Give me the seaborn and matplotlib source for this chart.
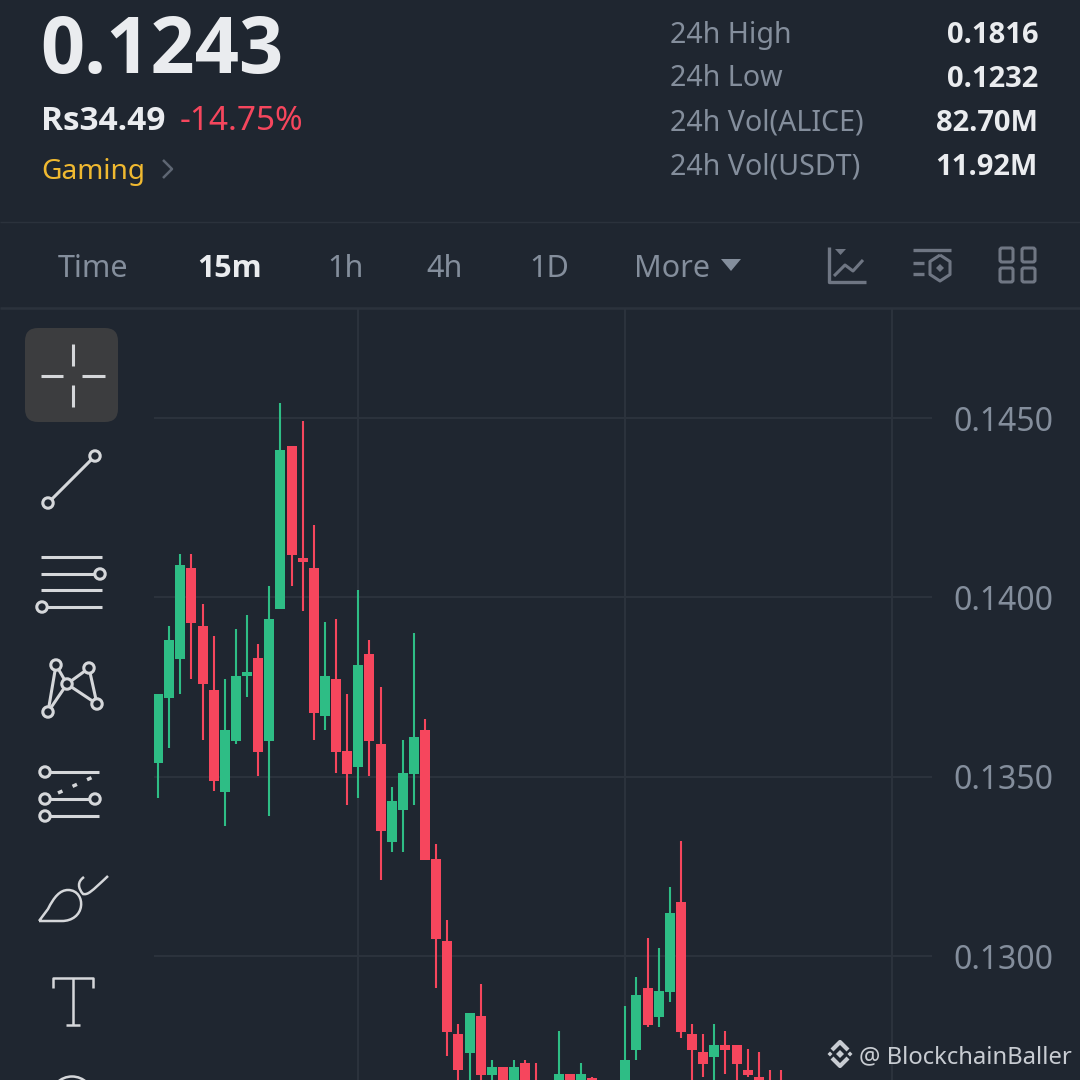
from __future__ import annotations

import matplotlib

matplotlib.use("Agg")

import matplotlib.pyplot as plt
import numpy as np
import pandas as pd
import seaborn as sns
from matplotlib.patches import Circle, FancyBboxPatch, PathPatch, Polygon
from matplotlib.path import Path

# candles, left to right (the last ones run off the bottom)
OPENS = [
    0.13538, 0.13719, 0.13828, 0.14082, 0.13920, 0.13742, 0.13457, 0.13600, 0.13781, 0.13831,
    0.13600, 0.13968, 0.14422, 0.14110, 0.14082, 0.13669, 0.13772, 0.13572, 0.13527, 0.13842,
    0.13591, 0.13318, 0.13407, 0.13508, 0.13630, 0.13271, 0.13042, 0.12783, 0.12730, 0.12833,
    0.12668, 0.12691, 0.12640, 0.12702, 0.12630, 0.12630, 0.12640, 0.12671, 0.12640, 0.12660,
    0.12630, 0.12630, 0.12640, 0.12738, 0.12911, 0.12830, 0.12900, 0.13151, 0.12783, 0.12732,
    0.12719, 0.12752, 0.12752, 0.12682, 0.12663, 0.12650, 0.12650,
]
HIGHS = [
    0.13731, 0.13920, 0.14121, 0.14121, 0.13981, 0.13892, 0.13772, 0.13912, 0.13951, 0.13870,
    0.14032, 0.14542, 0.14422, 0.14492, 0.14202, 0.13931, 0.13940, 0.13731, 0.14021, 0.13881,
    0.13750, 0.13471, 0.13602, 0.13901, 0.13661, 0.13312, 0.13100, 0.12811, 0.12841, 0.12922,
    0.12710, 0.12691, 0.12710, 0.12710, 0.12702, 0.12640, 0.12791, 0.12671, 0.12702, 0.12663,
    0.12640, 0.12640, 0.12861, 0.12942, 0.13050, 0.13022, 0.13192, 0.13321, 0.12811, 0.12783,
    0.12811, 0.12791, 0.12752, 0.12741, 0.12732, 0.12682, 0.12682,
]
LOWS = [
    0.13441, 0.13580, 0.13731, 0.13772, 0.13602, 0.13460, 0.13363, 0.13591, 0.13722, 0.13502,
    0.13390, 0.13968, 0.14032, 0.13962, 0.13602, 0.13630, 0.13510, 0.13421, 0.13441, 0.13502,
    0.13212, 0.13290, 0.13290, 0.13421, 0.13268, 0.12911, 0.12722, 0.12640, 0.12640, 0.12640,
    0.12640, 0.12612, 0.12612, 0.12612, 0.12612, 0.12612, 0.12640, 0.12612, 0.12612, 0.12612,
    0.12612, 0.12612, 0.12612, 0.12710, 0.12802, 0.12802, 0.12872, 0.12771, 0.12640, 0.12663,
    0.12640, 0.12671, 0.12640, 0.12663, 0.12640, 0.12640, 0.12640,
]
CLOSES = [
    0.13731, 0.13881, 0.14090, 0.13929, 0.13758, 0.13488, 0.13630, 0.13781, 0.13791, 0.13569,
    0.13940, 0.14411, 0.14118, 0.14098, 0.13678, 0.13781, 0.13569, 0.13508, 0.13811, 0.13600,
    0.13349, 0.13432, 0.13510, 0.13611, 0.13268, 0.13048, 0.12788, 0.12682, 0.12841, 0.12668,
    0.12691, 0.12612, 0.12691, 0.12612, 0.12612, 0.12612, 0.12671, 0.12612, 0.12671, 0.12640,
    0.12612, 0.12612, 0.12710, 0.12891, 0.12808, 0.12903, 0.13120, 0.12788, 0.12738, 0.12699,
    0.12752, 0.12738, 0.12699, 0.12668, 0.12612, 0.12612, 0.12612,
]
PRICE_TICKS = [0.1300, 0.1350, 0.1400, 0.1450]
TIME_TICKS = [18, 42, 66]

HEADER_PRICE = "0.1243"
STATS_LABELS = ["24h High", "24h Low", "24h Vol(ALICE)", "24h Vol(USDT)"]
STATS_VALUES = ["0.1816", "0.1232", "82.70M", "11.92M"]
TABS = ["Time", "15m", "1h", "4h", "1D", "More"]

BG = "#1f2630"
GRID = "#2b323c"
UP = "#2ebd85"
DOWN = "#f6465d"
MUTED = "#848e9c"
WHITE = "#eaecef"
ICON = "#d5d7da"
ICON_DIM = "#6f7683"

sns.set_theme(style="dark", rc={"figure.facecolor": BG, "axes.facecolor": BG})
plt.rcParams["font.family"] = ["Noto Sans", "Open Sans", "DejaVu Sans"]

candles = pd.DataFrame({"open": OPENS, "high": HIGHS, "low": LOWS, "close": CLOSES})
candles["slot"] = candles.index
candles["side"] = np.where(candles["close"] >= candles["open"], "up", "down")
wicks = candles.melt(id_vars=["slot", "side"], value_vars=["high", "low"], value_name="price")
bodies = candles.melt(id_vars=["slot", "side"], value_vars=["open", "close"], value_name="price")
palette = {"up": UP, "down": DOWN}

figure = plt.figure(figsize=(10.8, 10.8), dpi=100)
axis = figure.add_axes([154 / 1080, 0, 778 / 1080, 772 / 1080])

for frame, width in ((wicks, 1.5), (bodies, 7.2)):
    sns.lineplot(
        data=frame,
        x="slot",
        y="price",
        hue="side",
        units="slot",
        estimator=None,
        sort=False,
        palette=palette,
        linewidth=width,
        solid_capstyle="butt",
        legend=False,
        ax=axis,
        zorder=3,
    )

axis.set_xlim(-0.36, 69.57)
axis.set_ylim(0.126543, 0.148067)
axis.set_xticks(TIME_TICKS)
axis.set_xticklabels([])
axis.set_yticks(PRICE_TICKS)
axis.set_yticklabels([f"{tick:.4f}" for tick in PRICE_TICKS])
axis.yaxis.tick_right()
axis.tick_params(axis="y", length=0, pad=15.5, labelsize=23, labelcolor=MUTED)
axis.tick_params(axis="x", length=0)
axis.grid(True, color=GRID, linewidth=1.5)
axis.set_axisbelow(True)
axis.set_xlabel("")
axis.set_ylabel("")
sns.despine(ax=axis, left=True, bottom=True, right=True, top=True)

# everything around the chart sits in an overlay measured in picture pixels
ui = figure.add_axes([0, 0, 1, 1], zorder=5)
ui.set_xlim(0, 1080)
ui.set_ylim(1080, 0)
ui.axis("off")
ui.patch.set_alpha(0)


def stroke(points, color=ICON, width=2.2, **kwargs):
    xs, ys = zip(*points)
    ui.plot(xs, ys, color=color, linewidth=width, solid_capstyle="butt", solid_joinstyle="round", **kwargs)


def ring(x, y, radius=5.2, color=ICON):
    ui.add_patch(Circle((x, y), radius, facecolor=BG, edgecolor=color, linewidth=2.2, zorder=4))


def label(x, y, text, color=WHITE, size=20, weight="normal", ha="left"):
    # only Open Sans comes with a bold face here
    family = ["Open Sans", "DejaVu Sans"] if weight == "bold" else ["Noto Sans", "DejaVu Sans"]
    ui.text(x, y, text, color=color, fontsize=size, fontweight=weight, family=family, ha=ha, va="center_baseline")


# header
label(40, 43, HEADER_PRICE, size=55.8, weight="bold")
label(41, 117, "Rs34.49", size=24, weight="bold")
label(180, 117, "-14.75%", color=DOWN, size=24)
label(41, 168, "Gaming", color="#f0b930", size=20.2)
stroke([(163, 160), (172, 169), (163, 178)], color="#5e6673", width=1.8)
for row, (name, value) in enumerate(zip(STATS_LABELS, STATS_VALUES)):
    y = 32 + row * 44
    label(670, y - 0.5, name, color=MUTED, size=20.6)
    label(1038, y, value, size=21, weight="bold", ha="right")
stroke([(0, 222), (1080, 222)], color=GRID, width=1.0)
stroke([(0, 308), (1080, 308)], color=GRID, width=1.8)

# interval tabs
for text, x in zip(TABS, [58, 197, 327, 426, 529, 634]):
    active = text == "15m"
    label(x, 265.5, text, color=WHITE if active else MUTED, size=22, weight="bold" if active else "normal")
ui.add_patch(Polygon([(721, 259), (741, 259), (731, 271)], closed=True, facecolor=MUTED, edgecolor="none"))

# top right chart-type icons
stroke([(829, 247), (829, 282), (866, 282)], color=ICON_DIM, width=2.4)
ui.add_patch(Polygon([(835, 249), (846, 249), (840.5, 255)], closed=True, facecolor=ICON_DIM, edgecolor="none"))
stroke([(834, 276), (845, 265), (853, 271), (863, 260)], color=ICON_DIM, width=2.2)
stroke([(913, 250), (951, 250)], color=ICON_DIM, width=2.4)
stroke([(913, 263), (924, 263)], color=ICON_DIM, width=2.4)
stroke([(913, 274), (924, 274)], color=ICON_DIM, width=2.4)
hexagon = [(940, 255), (950, 261.5), (950, 274.5), (940, 281), (930, 274.5), (930, 261.5), (940, 255)]
stroke(hexagon, color=ICON_DIM, width=2.2)
ui.add_patch(Polygon([(940, 264), (944, 268), (940, 272), (936, 268)], closed=True, facecolor=ICON_DIM, edgecolor="none"))
for x0 in (1000, 1022):
    for y0 in (248, 268):
        ui.add_patch(
            FancyBboxPatch(
                (x0, y0), 13, 14, boxstyle="round,pad=0,rounding_size=2",
                facecolor="none", edgecolor=ICON_DIM, linewidth=2.2,
            )
        )

# left toolbar
ui.add_patch(
    FancyBboxPatch(
        (25, 328), 93, 94, boxstyle="round,pad=0,rounding_size=13",
        facecolor="#3c3d3f", edgecolor="none",
    )
)
stroke([(73, 344), (73, 366)])
stroke([(73, 385), (73, 407)])
stroke([(41, 376), (63, 376)])
stroke([(82, 376), (105, 376)])

stroke([(48, 503), (95, 456)])
ring(48, 503)
ring(95, 456)

stroke([(41, 557), (102, 557)])
stroke([(41, 574), (100, 574)])
stroke([(41, 590), (102, 590)])
stroke([(42, 607), (102, 607)])
ring(100, 574)
ring(42, 607)

nodes = [(56, 665), (89, 668), (67, 684), (97, 704), (48, 712)]
for first, second in [(4, 0), (0, 2), (4, 2), (2, 1), (1, 3), (2, 3)]:
    stroke([nodes[first], nodes[second]])
for x, y in nodes:
    ring(x, y)

stroke([(45, 772), (99, 772)])
stroke([(45, 799), (95, 799)])
stroke([(45, 816), (99, 816)])
ui.plot([58, 93], [793, 777], color=ICON, linewidth=2.5, linestyle=(0, (1.4, 3.2)))
for x, y in [(45, 772), (45, 799), (95, 799), (45, 816)]:
    ring(x, y)

brush = Path(
    [(39, 921), (48, 909), (54, 897), (60, 890), (68, 890), (78, 890), (82, 899), (81, 906),
     (80, 915), (72, 921), (62, 921), (39, 921)],
    [Path.MOVETO, Path.LINETO] + [Path.CURVE4] * 9 + [Path.LINETO],
)
ui.add_patch(PathPatch(brush, facecolor="none", edgecolor=ICON, linewidth=1.8))
handle = Path(
    [(84, 877), (77, 882), (78, 888), (83, 894), (88, 895), (91, 892), (108, 876)],
    [Path.MOVETO, Path.CURVE4, Path.CURVE4, Path.CURVE4, Path.CURVE4, Path.CURVE4, Path.CURVE4],
)
ui.add_patch(PathPatch(handle, facecolor="none", edgecolor=ICON, linewidth=1.8))

stroke([(53, 988), (53, 978), (93, 978), (93, 988)], width=1.8)
stroke([(73, 978), (73, 1025)], width=1.8)
stroke([(66, 1025), (80, 1025)], width=1.8)
ui.add_patch(Circle((72, 1098), 21.5, facecolor="none", edgecolor=ICON, linewidth=1.8))

# watermark
MARK = "#c8ccd2"
stroke([(832, 1050), (840, 1042), (848, 1050)], color=MARK, width=3.0)
stroke([(832, 1058), (840, 1066), (848, 1058)], color=MARK, width=3.0)
ui.add_patch(Polygon([(840, 1050), (844, 1054), (840, 1058), (836, 1054)], closed=True, facecolor=MARK, edgecolor="none"))
ui.add_patch(Polygon([(830, 1051.5), (832.5, 1054), (830, 1056.5), (827.5, 1054)], closed=True, facecolor=MARK, edgecolor="none"))
ui.add_patch(Polygon([(850, 1051.5), (852.5, 1054), (850, 1056.5), (847.5, 1054)], closed=True, facecolor=MARK, edgecolor="none"))
label(859, 1054, "@ BlockchainBaller", color=MARK, size=17.2)

figure.savefig("out.png", dpi=100, facecolor=BG)
plt.close(figure)
